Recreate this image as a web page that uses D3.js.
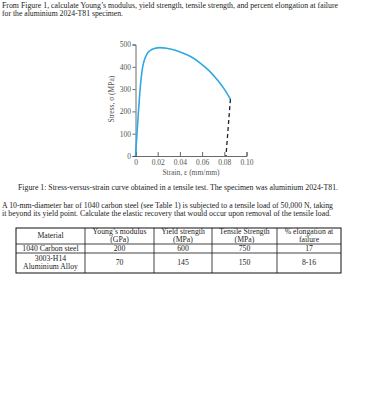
<!DOCTYPE html>
<html>
<head>
<meta charset="utf-8">
<script src="https://cdn.jsdelivr.net/npm/d3@7"></script>
<style>
  body { margin: 0; background: #fff; }
  svg text { font-family: "Liberation Serif", "Times New Roman", serif; }
</style>
</head>
<body>
<svg id="page" width="368" height="414"></svg>
<script>
// stress-strain curve
const strain = [0, 0.002, 0.004, 0.005, 0.006, 0.007, 0.008, 0.010, 0.013, 0.017, 0.022, 0.028, 0.035, 0.042, 0.050, 0.058, 0.066, 0.074, 0.080, 0.0855];
const stress = [0, 150, 290, 345, 385, 412, 430, 455, 472, 482, 486, 483, 475, 463, 445, 418, 384, 340, 300, 255];
// unloading (elastic recovery) dashed line
const unloadStrain = [0.0855, 0.0815];
const unloadStress = [255, 0];

const xTicks = [0, 0.02, 0.04, 0.06, 0.08, 0.10];
const yTicks = [0, 100, 200, 300, 400, 500];

const tableHead = [["Material"], ["Young\u2019s modulus", "(GPa)"], ["Yield strength", "(MPa)"], ["Tensile Strength", "(MPa)"], ["% elongation at", "failure"]];
const tableRows = [
  [["1040 Carbon steel"], ["200"], ["600"], ["750"], ["17"]],
  [["3003-H14", "Aluminium Alloy"], ["70"], ["145"], ["150"], ["8-16"]]
];

const svg = d3.select("#page");

// text line helper, width fitted to the page
function textLine(str, x0, y0, size, width, anchor) {
  const t = svg.append("text").attr("x", x0).attr("y", y0).attr("font-size", size)
    .attr("fill", "#1a1a1a").attr("text-anchor", anchor || "start").text(str);
  if (width) t.attr("textLength", width).attr("lengthAdjust", "spacingAndGlyphs");
  return t;
}

// top question text
textLine("From Figure 1, calculate Young\u2019s modulus, yield strength, tensile strength, and percent elongation at failure", 2, 8, 7.6, 336);
textLine("for the aluminium 2024-T81 specimen.", 2, 16, 7.6, 121);

// chart
const x = d3.scaleLinear().domain([0, 0.10]).range([135.5, 246.5]);
const y = d3.scaleLinear().domain([0, 500]).range([156, 44.5]);

const g = svg.append("g").attr("color", "#444");

const xAxis = g.append("g").attr("transform", `translate(0,${y(0)})`)
  .call(d3.axisTop(x).tickValues(xTicks).tickSize(4).tickFormat(d => d === 0 ? "0" : d3.format(".2f")(d)));
xAxis.select(".domain").attr("stroke-width", 0.8);
xAxis.selectAll(".tick line").attr("stroke-width", 0.8);
xAxis.selectAll(".tick text").attr("y", 3.5).attr("dy", "0.75em")
  .style("font-size", "7.5px").style("font-family", "'Liberation Serif', serif").attr("fill", "#555");

const yAxis = g.append("g").attr("transform", `translate(${x(0)},0)`)
  .call(d3.axisLeft(y).tickValues(yTicks).tickSize(3));
yAxis.select(".domain").attr("stroke-width", 0.8);
yAxis.selectAll(".tick line").attr("stroke-width", 0.8);
yAxis.selectAll(".tick text").attr("x", -4.5)
  .style("font-size", "7.5px").style("font-family", "'Liberation Serif', serif").attr("fill", "#555");

svg.append("text").attr("transform", `translate(114,${y(255)}) rotate(-90)`)
  .attr("text-anchor", "middle").attr("font-size", 7.5).attr("fill", "#555")
  .text("Stress, \u03c3 (MPa)");
svg.append("text").attr("x", x(0.05)).attr("y", 175)
  .attr("text-anchor", "middle").attr("font-size", 7.5).attr("fill", "#555")
  .text("Strain, \u03b5 (mm/mm)");

const curve = strain.map((s, i) => [s, stress[i]]);
const line = d3.line().x(d => x(d[0])).y(d => y(d[1])).curve(d3.curveMonotoneX);
svg.append("path").datum(curve).attr("d", line)
  .attr("fill", "none").attr("stroke", "#2fa8e4").attr("stroke-width", 1.6);

const unload = unloadStrain.map((s, i) => [s, unloadStress[i]]);
svg.append("path").datum(unload).attr("d", d3.line().x(d => x(d[0])).y(d => y(d[1])))
  .attr("fill", "none").attr("stroke", "#222").attr("stroke-width", 1.3).attr("stroke-dasharray", "4,3");

// caption and problem text
textLine("Figure 1: Stress-versus-strain curve obtained in a tensile test. The specimen was aluminium 2024-T81.", 18, 190, 7.4, 320);
textLine("A 10-mm-diameter bar of 1040 carbon steel (see Table 1) is subjected to a tensile load of 50,000 N, taking", 2, 208, 7.4, 331);
textLine("it beyond its yield point. Calculate the elastic recovery that would occur upon removal of the tensile load.", 2, 216, 7.4, 329);

// table
const colX = [16, 85, 154, 212, 277, 341];
const rowY = [228, 244, 253, 273];
const tg = svg.append("g");
tg.append("rect").attr("x", colX[0]).attr("y", rowY[0])
  .attr("width", colX[5] - colX[0]).attr("height", rowY[3] - rowY[0])
  .attr("fill", "none").attr("stroke", "#111").attr("stroke-width", 1);
colX.slice(1, 5).forEach(cx => tg.append("line").attr("x1", cx).attr("x2", cx)
  .attr("y1", rowY[0]).attr("y2", rowY[3]).attr("stroke", "#111").attr("stroke-width", 0.8));
rowY.slice(1, 3).forEach(ry => tg.append("line").attr("x1", colX[0]).attr("x2", colX[5])
  .attr("y1", ry).attr("y2", ry).attr("stroke", "#111").attr("stroke-width", 0.8));

const allRows = [tableHead].concat(tableRows);
allRows.forEach((row, ri) => {
  const top = rowY[ri], bot = rowY[ri + 1];
  row.forEach((cell, ci) => {
    const cx = (colX[ci] + colX[ci + 1]) / 2;
    const mid = (top + bot) / 2;
    cell.forEach((ln, li) => {
      const cy = mid + (li - (cell.length - 1) / 2) * 8;
      tg.append("text").attr("transform", `translate(${cx},${cy}) scale(1.06,1)`)
        .attr("dy", "0.32em").attr("text-anchor", "middle")
        .attr("font-size", 7.3).attr("fill", "#222").text(ln);
    });
  });
});
</script>
</body>
</html>
